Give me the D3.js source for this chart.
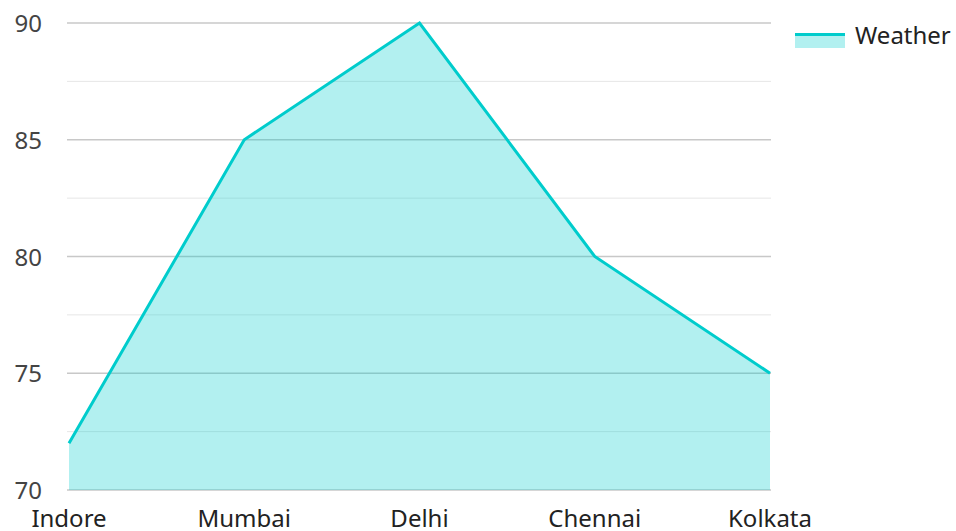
<!DOCTYPE html>
<html>
<head>
  <script src="https://d3js.org/d3.v7.min.js"></script>
  <style>
    body { margin: 0; background: #fff; }
    svg text { font-family: "Noto Sans", "Open Sans", sans-serif; }
  </style>
</head>
<body>
  <svg width="956" height="531"></svg>
  <script>
    const cities = ['Indore', 'Mumbai', 'Delhi', 'Chennai', 'Kolkata'];
    const weather = [72, 85, 90, 80, 75];
    const yTicks = [70, 75, 80, 85, 90];
    const minorTicks = [72.5, 77.5, 82.5, 87.5];

    const svg = d3.select('svg');
    const plotLeft = 67, plotRight = 771, plotTop = 23, plotBottom = 490;

    const x = d3.scalePoint().domain(cities).range([69, 770]);
    const y = d3.scaleLinear().domain([70, 90]).range([plotBottom, plotTop]);

    // gridlines
    svg.append('g').selectAll('line')
      .data(minorTicks).enter().append('line')
      .attr('x1', plotLeft).attr('x2', plotRight)
      .attr('y1', d => y(d)).attr('y2', d => y(d))
      .attr('stroke', '#e6e6e6').attr('stroke-width', 1);

    svg.append('g').selectAll('line')
      .data(yTicks).enter().append('line')
      .attr('x1', plotLeft).attr('x2', plotRight)
      .attr('y1', d => y(d)).attr('y2', d => y(d))
      .attr('stroke', '#c8c8c8').attr('stroke-width', 1.3);

    const data = cities.map((c, i) => ({ city: c, value: weather[i] }));

    const area = d3.area()
      .x(d => x(d.city))
      .y0(y(70))
      .y1(d => y(d.value));

    svg.append('path')
      .datum(data)
      .attr('d', area)
      .attr('fill', '#00cccc')
      .attr('fill-opacity', 0.3);

    const line = d3.line()
      .x(d => x(d.city))
      .y(d => y(d.value));

    svg.append('path')
      .datum(data)
      .attr('d', line)
      .attr('fill', 'none')
      .attr('stroke', '#00cccc')
      .attr('stroke-width', 3);

    // y labels
    svg.append('g').selectAll('text')
      .data(yTicks).enter().append('text')
      .attr('x', 42)
      .attr('y', d => y(d) + 9)
      .attr('text-anchor', 'end')
      .attr('font-size', 24)
      .attr('fill', '#444')
      .text(d => d);

    // x labels
    svg.append('g').selectAll('text')
      .data(cities).enter().append('text')
      .attr('x', d => x(d))
      .attr('y', 527)
      .attr('text-anchor', 'middle')
      .attr('font-size', 24)
      .attr('fill', '#222')
      .text(d => d);

    // legend
    const legend = svg.append('g').attr('transform', 'translate(795,33)');
    legend.append('rect')
      .attr('x', 0).attr('y', 0).attr('width', 50).attr('height', 15)
      .attr('fill', '#00cccc').attr('fill-opacity', 0.3);
    legend.append('line')
      .attr('x1', 0).attr('x2', 50).attr('y1', 1.5).attr('y2', 1.5)
      .attr('stroke', '#00cccc').attr('stroke-width', 3);
    legend.append('text')
      .attr('x', 60).attr('y', 11)
      .attr('font-size', 24)
      .attr('fill', '#222')
      .text('Weather');
  </script>
</body>
</html>
